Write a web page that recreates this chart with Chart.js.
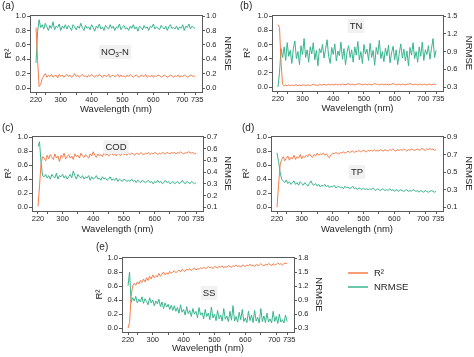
<!DOCTYPE html>
<html><head><meta charset="utf-8">
<script src="https://cdn.jsdelivr.net/npm/chart.js@4/dist/chart.umd.min.js"></script>
<style>
html,body{margin:0;padding:0;background:#fff;}
#wrap{position:relative;width:474px;height:357px;overflow:hidden;background:#fff;}
canvas{position:absolute;}
</style></head><body><div id="wrap">
<canvas id="ca"></canvas><canvas id="cb"></canvas><canvas id="cc"></canvas><canvas id="cd"></canvas><canvas id="ce"></canvas>
</div>
<script>
// ---------------- data ----------------
const wavelengths = [
220,225,230,235,240,245,250,255,260,265,
270,275,280,285,290,295,300,305,310,315,
320,325,330,335,340,345,350,355,360,365,
370,375,380,385,390,395,400,405,410,415,
420,425,430,435,440,445,450,455,460,465,
470,475,480,485,490,495,500,505,510,515,
520,525,530,535,540,545,550,555,560,565,
570,575,580,585,590,595,600,605,610,615,
620,625,630,635,640,645,650,655,660,665,
670,675,680,685,690,695,700,705,710,715,
720,725,730,735];
const xTicks = [220,300,400,500,600,700,735];
const xMinorTicks = [250,350,450,550,650];
const r2Ticks = [0,0.2,0.4,0.6,0.8,1.0];
const nrmseTicksA = [0,0.2,0.4,0.6,0.8,1.0];
const nrmseTicksB = [0.3,0.6,0.9,1.2,1.5];
const nrmseTicksC = [0.1,0.2,0.3,0.4,0.5,0.6,0.7];
const nrmseTicksD = [0.1,0.3,0.5,0.7,0.9];
const nrmseTicksE = [0.3,0.6,0.9,1.2,1.5,1.8];
const seriesNames = ['R²','NRMSE'];

// (a) NO3-N
const aR2 = [
0.84,0.40,0.02,0.05,0.13,0.17,0.20,0.15,0.18,0.16,
0.19,0.15,0.17,0.18,0.14,0.19,0.16,0.18,0.15,0.17,
0.19,0.16,0.18,0.15,0.17,0.20,0.16,0.18,0.15,0.17,
0.19,0.16,0.17,0.15,0.18,0.16,0.19,0.17,0.15,0.18,
0.16,0.19,0.17,0.15,0.18,0.17,0.16,0.19,0.15,0.17,
0.18,0.16,0.17,0.19,0.15,0.18,0.16,0.17,0.15,0.18,
0.16,0.19,0.17,0.15,0.17,0.18,0.16,0.15,0.18,0.17,
0.16,0.19,0.15,0.17,0.16,0.18,0.15,0.17,0.16,0.18,
0.17,0.15,0.16,0.18,0.17,0.15,0.16,0.18,0.17,0.15,
0.17,0.16,0.18,0.15,0.17,0.16,0.18,0.17,0.15,0.16,
0.18,0.17,0.16,0.17];
const aNrmse = [
0.35,0.78,0.95,0.84,0.88,0.82,0.90,0.85,0.80,0.87,
0.83,0.92,0.81,0.86,0.84,0.89,0.80,0.86,0.83,0.88,
0.82,0.87,0.84,0.80,0.88,0.85,0.81,0.86,0.83,0.90,
0.84,0.80,0.87,0.83,0.85,0.81,0.88,0.84,0.79,0.86,
0.83,0.89,0.82,0.85,0.80,0.87,0.84,0.82,0.88,0.83,
0.86,0.80,0.85,0.83,0.89,0.81,0.85,0.87,0.82,0.84,
0.80,0.86,0.83,0.88,0.82,0.85,0.79,0.86,0.84,0.81,
0.87,0.83,0.85,0.80,0.86,0.84,0.89,0.82,0.85,0.83,
0.81,0.87,0.84,0.82,0.86,0.80,0.85,0.88,0.83,0.84,
0.82,0.86,0.81,0.85,0.83,0.88,0.80,0.86,0.84,0.89,
0.82,0.86,0.84,0.83];

// (b) TN
const bR2 = [
0.88,0.84,0.35,0.04,0.02,0.03,0.02,0.03,0.02,0.03,
0.02,0.03,0.03,0.02,0.03,0.02,0.03,0.03,0.02,0.03,
0.03,0.02,0.03,0.04,0.03,0.03,0.02,0.04,0.03,0.03,
0.04,0.03,0.03,0.04,0.03,0.04,0.03,0.04,0.04,0.03,
0.04,0.03,0.04,0.04,0.03,0.04,0.05,0.03,0.04,0.04,
0.03,0.04,0.04,0.05,0.04,0.03,0.04,0.04,0.03,0.04,
0.04,0.03,0.04,0.05,0.04,0.04,0.03,0.04,0.04,0.03,
0.04,0.04,0.03,0.04,0.04,0.05,0.04,0.03,0.04,0.04,
0.03,0.04,0.04,0.03,0.04,0.04,0.05,0.04,0.03,0.04,
0.04,0.03,0.04,0.04,0.03,0.04,0.04,0.03,0.04,0.04,
0.03,0.04,0.04,0.03];
const bNrmse = [
0.30,0.55,0.95,0.80,0.98,0.75,1.05,0.82,0.92,0.70,
0.95,1.08,0.78,0.90,0.68,1.00,0.85,1.12,0.80,0.93,
0.72,0.98,0.86,1.05,0.76,0.92,0.66,0.95,0.88,1.02,
0.79,0.94,1.10,0.82,0.70,0.97,0.85,1.03,0.74,0.91,
0.83,1.06,0.77,0.95,0.68,0.89,1.00,0.80,0.93,0.72,
0.98,0.84,1.07,0.76,0.90,0.70,1.02,0.86,0.94,0.75,
1.04,0.80,0.92,0.67,0.97,0.85,1.09,0.78,0.90,0.73,
0.96,0.83,1.01,0.71,0.88,0.99,0.76,0.93,0.68,0.87,
1.03,0.79,0.94,0.74,0.91,0.66,0.97,0.84,1.05,0.78,
0.90,0.72,0.98,0.82,1.06,0.75,0.93,0.85,1.00,0.77,
0.95,1.12,0.80,0.92];

// (c) COD
const cR2 = [
0.01,0.30,0.62,0.72,0.70,0.66,0.74,0.69,0.75,0.71,
0.68,0.76,0.70,0.73,0.65,0.74,0.71,0.77,0.69,0.72,
0.75,0.70,0.73,0.68,0.76,0.72,0.74,0.70,0.77,0.73,
0.71,0.75,0.72,0.70,0.76,0.73,0.79,0.74,0.71,0.76,
0.73,0.75,0.72,0.77,0.74,0.76,0.73,0.75,0.77,0.74,
0.76,0.73,0.77,0.75,0.74,0.77,0.75,0.76,0.74,0.77,
0.75,0.77,0.76,0.74,0.77,0.76,0.75,0.78,0.76,0.75,
0.77,0.76,0.78,0.75,0.77,0.76,0.78,0.77,0.75,0.77,
0.76,0.78,0.77,0.76,0.78,0.77,0.76,0.78,0.77,0.78,
0.76,0.78,0.77,0.79,0.77,0.76,0.78,0.77,0.79,0.78,
0.77,0.78,0.76,0.77];
const cNrmse = [
0.62,0.66,0.48,0.37,0.36,0.38,0.35,0.37,0.34,0.38,
0.36,0.35,0.39,0.34,0.37,0.36,0.38,0.35,0.37,0.34,
0.36,0.38,0.35,0.41,0.37,0.34,0.38,0.36,0.35,0.37,
0.34,0.36,0.35,0.37,0.33,0.36,0.34,0.35,0.37,0.34,
0.35,0.33,0.36,0.34,0.35,0.33,0.34,0.36,0.33,0.34,
0.33,0.35,0.32,0.34,0.33,0.32,0.34,0.33,0.32,0.33,
0.32,0.34,0.32,0.33,0.31,0.33,0.32,0.31,0.33,0.32,
0.31,0.32,0.33,0.31,0.32,0.30,0.32,0.31,0.33,0.31,
0.32,0.30,0.31,0.33,0.31,0.32,0.30,0.31,0.32,0.30,
0.31,0.32,0.30,0.31,0.33,0.31,0.30,0.32,0.31,0.30,
0.32,0.31,0.30,0.31];

// (d) TP
const dR2 = [
0.00,0.32,0.60,0.68,0.72,0.66,0.70,0.73,0.67,0.71,
0.69,0.74,0.68,0.72,0.70,0.75,0.69,0.73,0.71,0.74,
0.72,0.76,0.73,0.71,0.75,0.73,0.77,0.74,0.76,0.75,
0.77,0.74,0.76,0.72,0.71,0.75,0.77,0.76,0.78,0.77,
0.76,0.78,0.77,0.79,0.77,0.78,0.80,0.78,0.79,0.80,
0.78,0.80,0.79,0.81,0.79,0.80,0.81,0.80,0.79,0.81,
0.80,0.81,0.80,0.82,0.80,0.81,0.80,0.82,0.81,0.80,
0.82,0.81,0.80,0.82,0.81,0.83,0.81,0.80,0.82,0.81,
0.82,0.81,0.83,0.82,0.80,0.82,0.81,0.83,0.82,0.81,
0.82,0.83,0.81,0.82,0.84,0.82,0.81,0.83,0.82,0.84,
0.82,0.83,0.81,0.82];
const dNrmse = [
0.72,0.62,0.50,0.42,0.40,0.38,0.41,0.37,0.39,0.36,
0.38,0.40,0.36,0.38,0.35,0.39,0.37,0.35,0.38,0.36,
0.34,0.37,0.40,0.36,0.35,0.37,0.34,0.36,0.33,0.35,
0.34,0.36,0.33,0.35,0.32,0.34,0.33,0.35,0.32,0.33,
0.34,0.32,0.33,0.31,0.34,0.32,0.33,0.31,0.32,0.34,
0.31,0.32,0.30,0.32,0.31,0.30,0.32,0.30,0.31,0.30,
0.31,0.30,0.32,0.30,0.29,0.31,0.30,0.29,0.31,0.30,
0.29,0.30,0.29,0.31,0.29,0.30,0.28,0.30,0.29,0.28,
0.30,0.29,0.28,0.29,0.30,0.28,0.29,0.28,0.30,0.29,
0.28,0.29,0.27,0.29,0.28,0.27,0.29,0.28,0.27,0.28,
0.29,0.28,0.27,0.28];

// (e) SS
const eR2 = [
0.00,0.08,0.45,0.60,0.64,0.61,0.66,0.63,0.68,0.65,
0.70,0.66,0.72,0.68,0.74,0.70,0.76,0.72,0.75,0.73,
0.78,0.74,0.77,0.80,0.76,0.79,0.77,0.81,0.78,0.80,
0.82,0.79,0.81,0.83,0.80,0.84,0.82,0.81,0.84,0.83,
0.85,0.82,0.84,0.86,0.83,0.85,0.84,0.86,0.85,0.87,
0.85,0.86,0.88,0.86,0.87,0.85,0.88,0.87,0.86,0.88,
0.87,0.89,0.86,0.88,0.87,0.89,0.88,0.87,0.89,0.88,
0.90,0.88,0.89,0.87,0.90,0.89,0.88,0.90,0.89,0.91,
0.89,0.90,0.88,0.91,0.89,0.90,0.92,0.90,0.89,0.91,
0.90,0.92,0.91,0.89,0.92,0.90,0.91,0.93,0.91,0.92,
0.90,0.92,0.93,0.92];
const eNrmse = [
1.21,1.50,0.85,0.95,0.88,0.98,0.84,0.92,0.86,0.97,
0.83,0.93,0.87,0.80,0.95,0.84,0.90,0.78,0.88,0.82,
0.92,0.76,0.86,0.72,0.84,0.75,0.81,0.70,0.79,0.68,
0.78,0.66,0.74,0.62,0.80,0.64,0.70,0.58,0.76,0.61,
0.68,0.55,0.72,0.60,0.66,0.52,0.74,0.58,0.63,0.50,
0.70,0.55,0.62,0.48,0.75,0.52,0.60,0.46,0.68,0.50,
0.58,0.45,0.72,0.49,0.56,0.44,0.66,0.47,0.78,0.45,
0.55,0.43,0.64,0.48,0.70,0.44,0.52,0.42,0.66,0.46,
0.58,0.42,0.68,0.45,0.53,0.41,0.72,0.44,0.56,0.42,
0.62,0.43,0.50,0.41,0.66,0.44,0.55,0.40,0.60,0.43,
0.48,0.41,0.58,0.44];

// ---------------- style ----------------
const ORANGE = '#F47C4B';
const TEAL = '#38B48D';
const AX = '#5a5a5a';
const TXT = '#262626';
const FONT = "'Liberation Sans', Arial, sans-serif";
const TICK_SIZE = 7.5;
const TITLE_SIZE = 9.5;
const L_MIN = -0.055, L_MAX = 1.015;
const X_MIN = 200.5, X_MAX = 757.5;
Chart.defaults.font.family = FONT;

const panels = [
 {id:'ca', letter:'(a)', label:[['NO',0],['3',1],['-N',0]], r2:aR2, nr:aNrmse, nrTicks:nrmseTicksA, nrMap:[0,1],
  canvas:{x:0,y:0,w:237,h:117}, area:{l:30,r:202,t:15,b:92}, r2X:8.3, nrX:228, wlY:109, letterPos:[2,6], labelPos:[115,52]},
 {id:'cb', letter:'(b)', label:[['TN',0]], r2:bR2, nr:bNrmse, nrTicks:nrmseTicksB, nrMap:[0.3,1.2],
  canvas:{x:237,y:0,w:237,h:117}, area:{l:272,r:443,t:15,b:91}, r2X:247.5, nrX:468.5, wlY:108.5, letterPos:[240,6], labelPos:[356,26]},
 {id:'cc', letter:'(c)', label:[['COD',0]], r2:cR2, nr:cNrmse, nrTicks:nrmseTicksC, nrMap:[0.1,0.6],
  canvas:{x:0,y:117,w:237,h:120}, area:{l:32,r:203,t:136,b:211}, r2X:8, nrX:227.5, wlY:229, letterPos:[2,128], labelPos:[116,147]},
 {id:'cd', letter:'(d)', label:[['TP',0]], r2:dR2, nr:dNrmse, nrTicks:nrmseTicksD, nrMap:[0.1,0.8],
  canvas:{x:237,y:117,w:237,h:120}, area:{l:271,r:443,t:136,b:211}, r2X:246.7, nrX:468.5, wlY:229, letterPos:[242,128], labelPos:[357,172]},
 {id:'ce', letter:'(e)', label:[['SS',0]], r2:eR2, nr:eNrmse, nrTicks:nrmseTicksE, nrMap:[0.3,1.5],
  canvas:{x:90,y:237,w:384,h:120}, boxRight:325, area:{l:122,r:294,t:257,b:332}, r2X:99, nrX:319, wlY:348, letterPos:[96,247], labelPos:[209,293],
  legend:{x1:348, x2:368, y:273, dy:14, tx:374}}
];

const crisp = v => Math.round(v - 0.5) + 0.5;

const decor = {
  id: 'decor',
  afterDraw(chart) {
    const p = chart.config.options.plugins.decor.panel;
    const ctx = chart.ctx, a = chart.chartArea;
    const ox = p.canvas.x, oy = p.canvas.y;
    ctx.save();
    ctx.strokeStyle = AX; ctx.lineWidth = 1;
    ctx.strokeRect(crisp(a.left), crisp(a.top), Math.round(a.right - a.left), Math.round(a.bottom - a.top));
    ctx.fillStyle = TXT; ctx.textBaseline = 'middle'; ctx.textAlign = 'left';
    ctx.font = '10px ' + FONT;
    ctx.fillText(p.letter, p.letterPos[0] - ox, p.letterPos[1] - oy);
    const big = TITLE_SIZE + 'px ' + FONT, small = '6.5px ' + FONT;
    let w = 0;
    p.label.forEach(s => { ctx.font = s[1] ? small : big; w += ctx.measureText(s[0]).width; });
    const cx = p.labelPos[0] - ox, cy = p.labelPos[1] - oy;
    ctx.fillStyle = '#f1f1f1';
    ctx.fillRect(cx - w/2 - 2, cy - 7, w + 4, 14);
    ctx.fillStyle = TXT;
    let x = cx - w/2;
    p.label.forEach(s => {
      ctx.font = s[1] ? small : big;
      ctx.fillText(s[0], x, cy + (s[1] ? 3 : 0));
      x += ctx.measureText(s[0]).width;
    });
    if (p.legend) {
      const L = p.legend;
      chart.data.datasets.forEach((ds, i) => {
        const y = L.y + i * L.dy - oy;
        ctx.strokeStyle = ds.borderColor; ctx.lineWidth = 1.5;
        ctx.beginPath(); ctx.moveTo(L.x1 - ox, y); ctx.lineTo(L.x2 - ox, y); ctx.stroke();
        ctx.fillStyle = TXT; ctx.font = TITLE_SIZE + 'px ' + FONT;
        ctx.fillText(ds.label, L.tx - ox, y);
      });
    }
    ctx.restore();
  }
};

function axisCommon() {
  return {
    grid: {drawOnChartArea: false, drawTicks: true, tickLength: 3, tickColor: AX, tickWidth: 1},
    border: {display: true, color: AX, width: 1}
  };
}

function xLabel(v) {
  if (!xTicks.includes(v)) return '';
  if (v === 700) return '700  ';
  if (v === 735) return '  735';
  return String(v);
}

function makeChart(p) {
  const cv = document.getElementById(p.id);
  cv.width = p.canvas.w; cv.height = p.canvas.h;
  cv.style.left = p.canvas.x + 'px'; cv.style.top = p.canvas.y + 'px';
  cv.style.width = p.canvas.w + 'px'; cv.style.height = p.canvas.h + 'px';
  const boxRight = p.boxRight || (p.canvas.x + p.canvas.w);
  const padRight = p.canvas.x + p.canvas.w - boxRight;
  const leftW = p.area.l - p.canvas.x;
  const rightW = boxRight - p.area.r;
  const botH = p.canvas.y + p.canvas.h - p.area.b;
  const topPad = p.area.t - p.canvas.y;
  const lh = TITLE_SIZE * 1.2;
  const r2Pad = Math.max(0, p.r2X - p.canvas.x - lh/2);
  const nrPad = Math.max(0, boxRight - p.nrX - lh/2);
  const wlPad = Math.max(0, p.canvas.y + p.canvas.h - p.wlY - lh/2);
  const toPts = arr => wavelengths.map((w, i) => ({x: w, y: arr[i]}));
  new Chart(cv, {
    type: 'line',
    data: {datasets: [
      {label: seriesNames[0], data: toPts(p.r2), borderColor: ORANGE, backgroundColor: ORANGE, borderWidth: 1, pointRadius: 0, tension: 0, yAxisID: 'y'},
      {label: seriesNames[1], data: toPts(p.nr), borderColor: TEAL, backgroundColor: TEAL, borderWidth: 1, pointRadius: 0, tension: 0, yAxisID: 'y1'}
    ]},
    options: {
      responsive: false, animation: false, events: [],
      layout: {padding: {top: topPad, left: 0, right: padRight, bottom: 0}},
      plugins: {legend: {display: false}, tooltip: {enabled: false}, decor: {panel: p}},
      scales: {
        x: Object.assign(axisCommon(), {
          type: 'linear', position: 'bottom', min: X_MIN, max: X_MAX,
          afterBuildTicks: s => { s.ticks = xTicks.concat(xMinorTicks).sort((m, n) => m - n).map(v => ({value: v})); },
          afterFit: s => { s.height = botH; },
          ticks: {autoSkip: false, maxRotation: 0, minRotation: 0, padding: 0, color: TXT, font: {size: TICK_SIZE}, callback: v => xLabel(v)},
          title: {display: true, text: 'Wavelength (nm)', color: TXT, font: {size: TITLE_SIZE}, padding: {top: 0, bottom: wlPad}}
        }),
        y: Object.assign(axisCommon(), {
          type: 'linear', position: 'left', min: L_MIN, max: L_MAX,
          afterBuildTicks: s => { s.ticks = r2Ticks.map(v => ({value: v})); },
          afterFit: s => { s.width = leftW; },
          ticks: {padding: 1, color: TXT, font: {size: TICK_SIZE}, callback: v => v.toFixed(1)},
          title: {display: true, text: 'R²', color: TXT, font: {size: TITLE_SIZE}, padding: {top: r2Pad, bottom: 0}}
        }),
        y1: Object.assign(axisCommon(), {
          type: 'linear', position: 'right',
          min: p.nrMap[0] + p.nrMap[1] * L_MIN, max: p.nrMap[0] + p.nrMap[1] * L_MAX,
          afterBuildTicks: s => { s.ticks = p.nrTicks.map(v => ({value: v})); },
          afterFit: s => { s.width = rightW; },
          ticks: {padding: 1, color: TXT, font: {size: TICK_SIZE}, callback: v => v.toFixed(1)},
          title: {display: true, text: 'NRMSE', color: TXT, font: {size: TITLE_SIZE}, padding: {top: nrPad, bottom: 0}}
        })
      }
    },
    plugins: [decor]
  });
}
panels.forEach(makeChart);
</script>
</body></html>
